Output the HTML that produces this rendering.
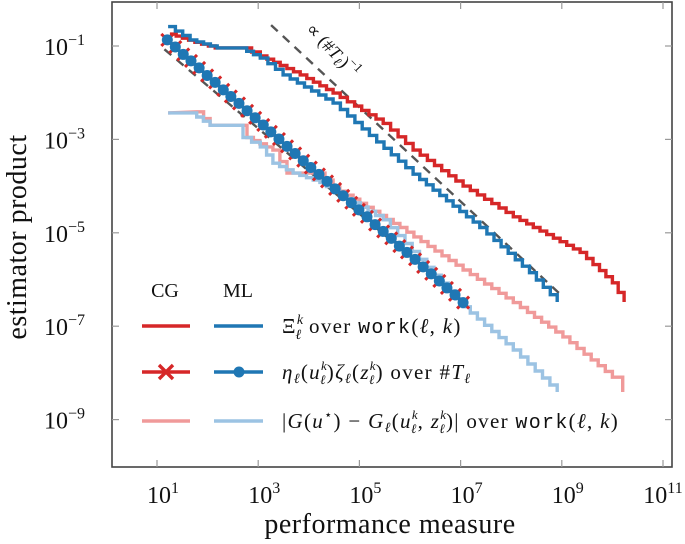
<!DOCTYPE html>
<html><head><meta charset="utf-8">
<style>
html,body{margin:0;padding:0;background:#fff;}
svg{display:block;}
text{font-family:"Liberation Serif",serif;fill:#111;}
</style></head>
<body>
<svg id="chart" width="685" height="544" viewBox="0 0 685 544" xmlns="http://www.w3.org/2000/svg">
<g id="marks"></g>
<g id="axes"></g>
<text x="390" y="533" font-size="28" text-anchor="middle" letter-spacing="0.5">performance measure</text>
<text transform="translate(26,237) rotate(-90)" font-size="28" text-anchor="middle" letter-spacing="0.5">estimator product</text>
<text transform="translate(305,30) rotate(46)" font-size="18"><tspan>∝ (#</tspan><tspan font-style="italic">T</tspan><tspan font-style="italic" font-size="13" dy="3">ℓ</tspan><tspan dy="-3">)</tspan><tspan font-size="13" dy="-8">−1</tspan></text>
<g id="legend">
<text x="165" y="297" font-size="20" text-anchor="middle">CG</text>
<text x="238" y="297" font-size="20" text-anchor="middle">ML</text>
<line x1="142" y1="326" x2="190" y2="326" stroke="#d62728" stroke-width="3.4"/>
<line x1="214" y1="326" x2="263" y2="326" stroke="#1f77b4" stroke-width="3.4"/>
<text x="282" y="333" font-size="21" letter-spacing="1.3">Ξ<tspan font-style="italic" font-size="14" dy="-9">k</tspan><tspan font-style="italic" font-size="14" dx="-9" dy="15">ℓ</tspan><tspan dy="-6">  over </tspan><tspan font-family="Liberation Mono, monospace" font-size="20">work</tspan>(<tspan font-style="italic">ℓ</tspan>, <tspan font-style="italic">k</tspan>)</text>
<line x1="142" y1="372" x2="190" y2="372" stroke="#d62728" stroke-width="3.4"/>
<path d="M159,365 L173,379 M159,379 L173,365" stroke="#d62728" stroke-width="3.4"/>
<line x1="214" y1="372" x2="263" y2="372" stroke="#1f77b4" stroke-width="3.4"/>
<circle cx="239" cy="372" r="5.5" fill="#1f77b4"/>
<text x="282" y="379" font-size="21" letter-spacing="1.3"><tspan font-style="italic">η</tspan><tspan font-style="italic" font-size="14" dy="4">ℓ</tspan><tspan dy="-4">(</tspan><tspan font-style="italic">u</tspan><tspan font-style="italic" font-size="13" dy="-9">k</tspan><tspan font-style="italic" font-size="13" dx="-8" dy="14">ℓ</tspan><tspan dy="-5">)</tspan><tspan font-style="italic">ζ</tspan><tspan font-style="italic" font-size="14" dy="4">ℓ</tspan><tspan dy="-4">(</tspan><tspan font-style="italic">z</tspan><tspan font-style="italic" font-size="13" dy="-9">k</tspan><tspan font-style="italic" font-size="13" dx="-8" dy="14">ℓ</tspan><tspan dy="-5">) over #</tspan><tspan font-style="italic">T</tspan><tspan font-style="italic" font-size="14" dy="4">ℓ</tspan></text>
<line x1="142" y1="421" x2="190" y2="421" stroke="#f09a9a" stroke-width="3.4"/>
<line x1="214" y1="421" x2="263" y2="421" stroke="#9cc3e3" stroke-width="3.4"/>
<text x="282" y="428" font-size="21" letter-spacing="1.3">|<tspan font-style="italic">G</tspan>(<tspan font-style="italic">u</tspan><tspan font-size="13" dy="-9">⋆</tspan><tspan dy="9">) − </tspan><tspan font-style="italic">G</tspan><tspan font-style="italic" font-size="14" dy="4">ℓ</tspan><tspan dy="-4">(</tspan><tspan font-style="italic">u</tspan><tspan font-style="italic" font-size="13" dy="-9">k</tspan><tspan font-style="italic" font-size="13" dx="-8" dy="14">ℓ</tspan><tspan dy="-5">, </tspan><tspan font-style="italic">z</tspan><tspan font-style="italic" font-size="13" dy="-9">k</tspan><tspan font-style="italic" font-size="13" dx="-8" dy="14">ℓ</tspan><tspan dy="-5">)| over </tspan><tspan font-family="Liberation Mono, monospace" font-size="20">work</tspan>(<tspan font-style="italic">ℓ</tspan>, <tspan font-style="italic">k</tspan>)</text>
</g>
</svg>
<script>
const xiCgX=[18,56,141,500,1100,6760,30200,295000,1150000,11200000,110000000,2300000000,10000000000,17000000000];
const xiCgY=[0.18,0.12,0.091,0.091,0.061,0.024,0.0098,0.0022,0.00059,0.0001,0.000022,0.0000038,0.00000085,0.00000033];
const xiMlX=[16.6,45,155,436,1100,3100,30200,1150000,24000000,230000000,810000000];
const xiMlY=[0.26,0.135,0.091,0.091,0.055,0.024,0.006,0.00018,0.000013,0.0000014,0.00000033];
const errCgX=[16.6,62,112,500,600,1950,3700,14500,30200,631000,11200000,110000000,1050000000,10000000000,16000000000];
const errCgY=[0.0037,0.0039,0.002,0.002,0.0011,0.00059,0.00019,0.00019,0.000095,0.000013,0.0000016,0.00000032,0.000000059,0.0000000081,0.0000000039];
const errMlX=[16.6,45,112,436,500,1100,1950,4900,16600,74000,295000,11200000,110000000,810000000];
const errMlY=[0.0037,0.0037,0.002,0.002,0.0011,0.00069,0.00031,0.00019,0.00012,0.000044,0.000019,0.00000026,0.000000031,0.0000000039];
const etaX=[16,23,33,47,68,98,141,204,288,417,603,871,1259,1778,2570,3715,5370,7762,10965,15849,22909,33113,47863,69183,97724,141254,204174,295121,426580,616595,870964,1260000,1820000,2630000,3800000,5370000,7760000,11200000];
const etaCgY=[0.135,0.095,0.066,0.048,0.034,0.0234,0.0166,0.0115,0.0083,0.0059,0.0041,0.0029,0.00204,0.00145,0.00102,0.00071,0.0005,0.00035,0.00025,0.000178,0.000126,0.000087,0.000062,0.000044,0.000031,0.000022,0.000015,0.0000107,0.0000076,0.0000052,0.0000038,0.0000027,0.00000186,0.00000132,0.00000093,0.00000066,0.00000047,0.00000032];
const etaMlY=[0.135,0.095,0.066,0.048,0.034,0.0234,0.0166,0.0115,0.0083,0.0059,0.0041,0.0029,0.00204,0.00145,0.00102,0.00071,0.0005,0.00035,0.00025,0.000178,0.000126,0.000087,0.000062,0.000044,0.000031,0.000022,0.000015,0.0000107,0.0000076,0.0000052,0.0000038,0.0000027,0.00000186,0.00000132,0.00000093,0.00000066,0.00000047,0.00000032];
const refX=[[1800,1000000000],[14,11000000]];
const refY=[[0.28,0.00000045],[0.085,0.00000035]];
const xTickExp=[1,3,5,7,9,11];
const yTickExp=[-1,-3,-5,-7,-9];

const L=112,R=672,T=2,B=467;
function sx(v){return 157+(Math.log10(v)-1)*50.6;}
function sy(v){return 46+(-1-Math.log10(v))*46.7;}
const NS="http://www.w3.org/2000/svg";
const marks=document.getElementById('marks'), axes=document.getElementById('axes');
function mk(t,attrs,parent){const e=document.createElementNS(NS,t);for(const k in attrs)e.setAttribute(k,attrs[k]);parent.appendChild(e);return e;}
function poly(xs,ys){return xs.map((x,i)=>sx(x).toFixed(1)+','+sy(ys[i]).toFixed(1)).join(' ');}
function stairs(xs,ys){
  let pts=[[sx(xs[0]),sy(ys[0])]];
  for(let i=1;i<xs.length;i++){
    const x0=sx(xs[i-1]),y0=sy(ys[i-1]),x1=sx(xs[i]),y1=sy(ys[i]);
    const dy=y1-y0;
    if(Math.abs(dy)<2){pts.push([x1,y1]);continue;}
    const n=Math.max(1,Math.round((x1-x0)/7));
    for(let j=1;j<=n;j++){
      const xa=x0+(x1-x0)*j/n, yb=y0+dy*(j-1)/n, ya=y0+dy*j/n;
      pts.push([xa,yb]);pts.push([xa,ya]);
    }
  }
  return pts.map(p=>p[0].toFixed(1)+','+p[1].toFixed(1)).join(' ');
}

refX.forEach((xs,i)=>{
  const e=mk('polyline',{points:poly(xs,refY[i]),fill:'none',stroke:'#555','stroke-width':2.4,'stroke-dasharray':'9,7'},marks);
  
  
});
const series=[[errCgX,errCgY,'#f09a9a','error-cg-line'],[errMlX,errMlY,'#9cc3e3','error-ml-line'],[xiCgX,xiCgY,'#d62728','xi-cg-line'],[xiMlX,xiMlY,'#1f77b4','xi-ml-line']];
series.forEach(s=>{
  const e=mk('polyline',{points:stairs(s[0],s[1]),fill:'none',stroke:s[2],'stroke-width':3.4,'stroke-linejoin':'miter'},marks);
  
  
});
const ecg=mk('polyline',{points:poly(etaX,etaCgY),fill:'none',stroke:'#d62728','stroke-width':3.4},marks);


etaX.forEach((x,i)=>{
  const cx=sx(x),cy=sy(etaCgY[i]);
  const m=mk('path',{d:`M${cx-6},${cy-6}L${cx+6},${cy+6}M${cx-6},${cy+6}L${cx+6},${cy-6}`,stroke:'#d62728','stroke-width':3},marks);
  
  
});
const eml=mk('polyline',{points:poly(etaX,etaMlY),fill:'none',stroke:'#1f77b4','stroke-width':3.4},marks);


etaX.forEach((x,i)=>{
  const c=mk('circle',{cx:sx(x),cy:sy(etaMlY[i]),r:5.5,fill:'#1f77b4'},marks);
  
  
});
const fr=mk('rect',{x:L,y:T,width:R-L,height:B-T,fill:'none',stroke:'#444','stroke-width':1.6},axes);


xTickExp.forEach(k=>{
  const x=sx(Math.pow(10,k));
  const t1=mk('line',{x1:x,y1:B,x2:x,y2:B-7,stroke:'#999','stroke-width':1.2},axes);
  
  
  const t2=mk('line',{x1:x,y1:T,x2:x,y2:T+7,stroke:'#999','stroke-width':1.2},axes);
  
  
  const lx=Math.min(x+6,684-(k>9?42:30)/2);
  const lb=mk('text',{x:lx,y:B+36,'font-size':24,'text-anchor':'middle'},axes);
  
  
  lb.innerHTML='10<tspan font-size="16" dy="-10">'+k+'</tspan>';
});
yTickExp.forEach(k=>{
  const y=sy(Math.pow(10,k));
  const t1=mk('line',{x1:L,y1:y,x2:L+7,y2:y,stroke:'#999','stroke-width':1.2},axes);
  
  
  const t2=mk('line',{x1:R,y1:y,x2:R-7,y2:y,stroke:'#999','stroke-width':1.2},axes);
  
  
  const lb=mk('text',{x:44,y:y+9,'font-size':24},axes);
  
  
  lb.innerHTML='10<tspan font-size="16" dy="-10">−'+(-k)+'</tspan>';
});
</script>
</body></html>
